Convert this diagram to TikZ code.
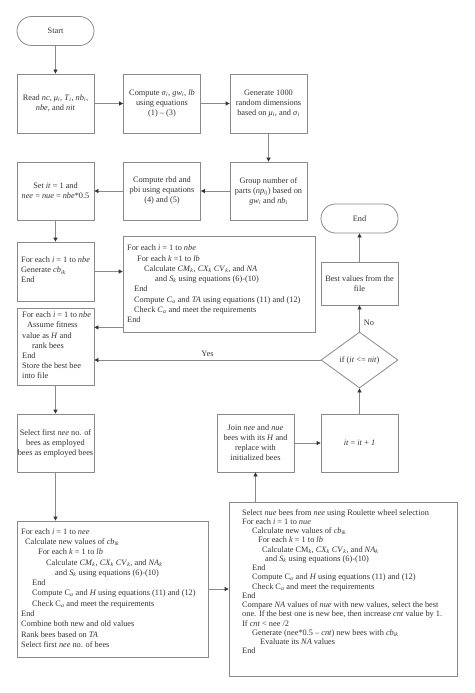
\documentclass[tikz,border=0pt]{standalone}
\usepackage{fontspec}
\setmainfont{Liberation Serif}
\usetikzlibrary{shapes.geometric,arrows.meta,calc}
\definecolor{ln}{HTML}{8A8A8A}
\definecolor{tx}{HTML}{333333}
\newcommand\ii[1]{\textit{#1}}
\newcommand\sbi[1]{\textsubscript{\textit{#1}}}
\newcommand\ind[1]{\hspace*{#1pt}}
\begin{document}
\begin{tikzpicture}[x=1pt,y=-1pt,
  every node/.style={font=\fontsize{8.3}{10}\selectfont, text=tx},
  box/.style={draw=ln, line width=0.8pt, rectangle, inner sep=0pt, minimum width=77pt, minimum height=59pt, align=center},
  term/.style={box, rounded corners=14.5pt, minimum height=29pt},
  txt/.style={align=left, inner sep=0pt, anchor=west},
  arr/.style={draw=ln, line width=0.8pt, -{Triangle[length=4pt,width=4pt,color=tx]}},
 ]
\useasboundingbox[fill=white] (0,0) rectangle (474,693);

% terminals
\node[term] (start) at (55.5,31) {Start};
\node[term] (end) at (359.5,218.5) {End};

% top row
\node[box] (read) at (55.5,103.5) {Read \ii{nc}, \ii{μ}\sbi{i}, \ii{T}\sbi{i}, \ii{nb}\sbi{i},\\ \ii{nbe}, and \ii{nit}};
\node[box] (comp) at (162,103.5) {Compute \ii{σ}\sbi{i}, \ii{gw}\sbi{i}, \ii{lb}\\using equations\\(1) -- (3)};
\node[box] (gen) at (268.5,103.5) {Generate 1000\\random dimensions\\based on \ii{μ}\sbi{i}, and \ii{σ}\sbi{i}};

% second row
\node[box, minimum height=58pt] (set) at (55.5,191) {Set \ii{it} = 1 and\\\ii{nee} = \ii{nue} = \ii{nbe}*0.5};
\node[box, minimum height=58pt] (rbd) at (162,191) {Compute rbd and\\pbi using equations\\(4) and (5)};
\node[box, minimum height=58pt] (grp) at (268.5,191) {Group number of\\parts (\ii{np}\sbi{ij}) based on\\\ii{gw}\sbi{i} and \ii{nb}\sbi{i}};

% box 1
\node[box] (b1) at (55.5,271.5) {};
\node[txt] (t1) at (21,270) {For each \ii{i} = 1 to \ii{nbe}\\Generate \ii{cb}\sbi{ik}\\End};

% box 2
\node[box, minimum width=192pt, minimum height=96pt] (b2) at (219,284) {};
\node[txt, font=\fontsize{8.3}{10.3}\selectfont] (t2) at (127,284) {For each \ii{i} = 1 to \ii{nbe}\\
\ind{10}For each \ii{k} =1 to \ii{lb}\\
\ind{17}Calculate \ii{CM}\sbi{k}, \ii{CX}\sbi{k} \ii{CV}\sbi{k}, and \ii{NA}\\
\ind{28}and \ii{S}\sbi{k} using equations (6)-(10)\\
\ind{7}End\\
\ind{7}Compute \ii{C}\sbi{a} and \ii{TA} using equations (11) and (12)\\
\ind{7}Check \ii{C}\sbi{a} and meet the requirements\\
End};

% box 3
\node[box, minimum height=77pt] (b3) at (55.5,346.5) {};
\node[txt, font=\fontsize{8.3}{10.2}\selectfont] (t3) at (22,345.5) {For each \ii{i} = 1 to \ii{nbe}\\
\ind{5}Assume fitness\\
value as \ii{H} and\\
\ind{10}rank bees\\
End\\
Store the best bee\\
into file};

% end branch
\node[box, minimum height=43pt] (best) at (359.5,283.5) {Best values from the\\file};
\node[draw=ln, line width=0.8pt, diamond, minimum width=77pt, minimum height=56pt, inner sep=0pt] (dia) at (359.5,360) {if (\ii{it} <= \ii{nit})};

% row of select
\node[box, minimum height=58pt] (sel) at (55.5,443) {Select first \ii{nee} no. of\\bees as employed\\\makebox[0pt][c]{bees as employed bees}};
\node[box, minimum height=58pt] (join) at (255.5,443) {Join \ii{nee} and \ii{nue}\\bees with its \ii{H} and\\replace with\\initialized bees};
\node[box, minimum height=58pt] (inc) at (359.5,443) {\ii{it} = \ii{it} + \ii{1}};

% box 4
\node[box, minimum width=191pt, minimum height=136pt] (b4) at (112.5,589) {};
\node[txt, font=\fontsize{8.3}{10.3}\selectfont] (t4) at (21,588) {For each \ii{i} = 1 to \ii{nee}\\
\ind{4}Calculate new values of \ii{cb}\sbi{ik}\\
\ind{17}For each \ii{k} = 1 to \ii{lb}\\
\ind{25}Calculate \ii{CM}\sbi{k}, \ii{CX}\sbi{k} \ii{CV}\sbi{k}, and \ii{NA}\sbi{k}\\
\ind{34}and \ii{S}\sbi{k} using equations (6)-(10)\\
\ind{11}End\\
\ind{11}Compute C\sbi{a} and \ii{H} using equations (11) and (12)\\
\ind{11}Check C\sbi{a} and meet the requirements\\
End\\
Combine both new and old values\\
Rank bees based on \ii{TA}\\
Select first \ii{nee} no. of bees};

% box 5
\node[box, minimum width=228pt, minimum height=174pt] (b5) at (343,589) {};
\node[txt, font=\fontsize{8.3}{9.25}\selectfont] (t5) at (242,581.5) {Select \ii{nue} bees from \ii{nee} using Roulette wheel selection\\
For each \ii{i} = 1 to \ii{nue}\\
\ind{10}Calculate new values of \ii{cb}\sbi{ik}\\
\ind{16}For each \ii{k} = 1 to \ii{lb}\\
\ind{20}Calculate CM\sbi{k}, \ii{CX}\sbi{k} \ii{CV}\sbi{k}, and \ii{NA}\sbi{k}\\
\ind{23}and \ii{S}\sbi{k} using equations (6)-(10)\\
\ind{10}End\\
\ind{10}Compute C\sbi{a} and \ii{H} using equations (11) and (12)\\
\ind{10}Check C\sbi{a} and meet the requirements\\
End\\
Compare \ii{NA} values of \ii{nue} with new values, select the best\\
one. If the best one is new bee, then increase \ii{cnt} value by 1.\\
If \ii{cnt} < nee /2\\
\ind{10}Generate (nee*0.5 -- \ii{cnt}) new bees with \ii{cb}\sbi{ik}\\
\ind{18}Evaluate its \ii{NA} values\\
End};

% connectors
\draw[arr] (start) -- (read);
\draw[arr] (read) -- (comp);
\draw[arr] (comp) -- (gen);
\draw[arr] (gen) -- (grp);
\draw[arr] (grp) -- (rbd);
\draw[arr] (rbd) -- (set);
\draw[arr] (set) -- (b1);
\draw[arr] (b1) -- (b1 -| b2.west);
\draw[arr] ([yshift=5pt]b2.south west) -- ([yshift=5pt]b2.south west -| b3.east);
\draw[arr] (dia.west) -- node[above, inner sep=3pt] {Yes} (dia.west -| b3.east);
\draw[arr] (dia) -- node[right, pos=0.35, inner sep=4pt] {No} (best);
\draw[arr] (best) -- (end);
\draw[arr] (b3) -- (sel);
\draw[arr] (sel) -- (sel |- b4.north);
\draw[arr] (b4.east) -- (b4.east -| b5.west);
\draw[arr] (b5.north -| join) -- (join);
\draw[arr] (join) -- (inc);
\draw[arr] (inc) -- (dia);
\end{tikzpicture}
\end{document}
